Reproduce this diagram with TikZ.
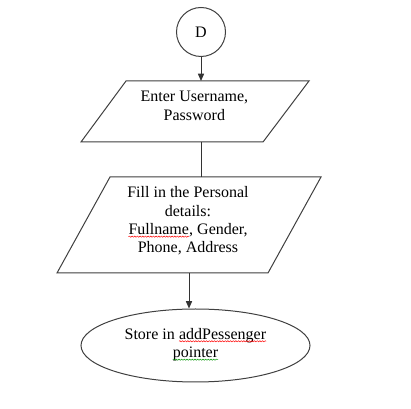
\documentclass[tikz,border=0pt]{standalone}
\usepackage{fontspec}
\setmainfont{Liberation Serif}
\usetikzlibrary{arrows.meta,shapes.geometric,decorations.pathmorphing}
\newcommand{\wavyword}[2]{\tikz[baseline=(w.base)]{\node[shape=rectangle,draw=none,fill=none,minimum width=0pt,minimum height=0pt,inner sep=0pt,outer sep=0pt](w){#2};\draw[draw=#1,line width=0.35pt,decorate,decoration={snake,amplitude=0.45pt,segment length=2pt}]([yshift=-1.6pt]w.base west)--([yshift=-1.6pt]w.base east);}}
\tikzset{
  shapeline/.style={draw=black!75,line width=0.75pt},
  conn/.style={draw=black!80,line width=0.75pt,-{Triangle[length=5.5pt,width=4.6pt]}},
  plain/.style={draw=black!80,line width=0.75pt},
  txt/.style={align=center,inner sep=0pt,font=\fontsize{12}{13.8}\selectfont},
}
\begin{document}
\begin{tikzpicture}[x=0.75pt,y=-0.75pt]
\useasboundingbox[fill=white] (0,0) rectangle (411,409);
% connector circle
\node[circle,shapeline,minimum size=36.75pt,inner sep=0pt,font=\fontsize{12}{13.8}\selectfont] (d) at (201,32) {D};
% parallelogram 1
\draw[shapeline] (126,81) coordinate (p1tl) -- (309,81) coordinate (p1tr) -- (263,142) coordinate (p1br) -- (81,142) coordinate (p1bl) -- cycle;
\coordinate (p1t) at (201,81);
\coordinate (p1b) at (201,142);
\node[txt] (t1) at (194.4,106) {Enter Username,\\Password};
% parallelogram 2
\draw[shapeline] (110,177) coordinate (p2tl) -- (321,177) coordinate (p2tr) -- (268,273) coordinate (p2br) -- (57,273) coordinate (p2bl) -- cycle;
\coordinate (p2t) at (201,177);
\coordinate (p2b) at (189,273);
\node[txt] (t2) at (188,221) {Fill in the Personal\\details:\\\wavyword{red}{Fullname}, Gender,\\Phone, Address};
% ellipse
\node[ellipse,shapeline,minimum width=171.75pt,minimum height=54.75pt,inner sep=0pt] (e) at (195.5,345.5) {};
\node[txt] (te) at (195.5,344.5) {Store in \wavyword{red}{addPessenger}\\\wavyword{green!60!black}{pointer}};
% connectors
\draw[conn] (d) -- (p1t);
\draw[plain] (p1b) -- (p2t);
\draw[conn] (p2b) -- (p2b |- e.north);
\end{tikzpicture}
\end{document}
